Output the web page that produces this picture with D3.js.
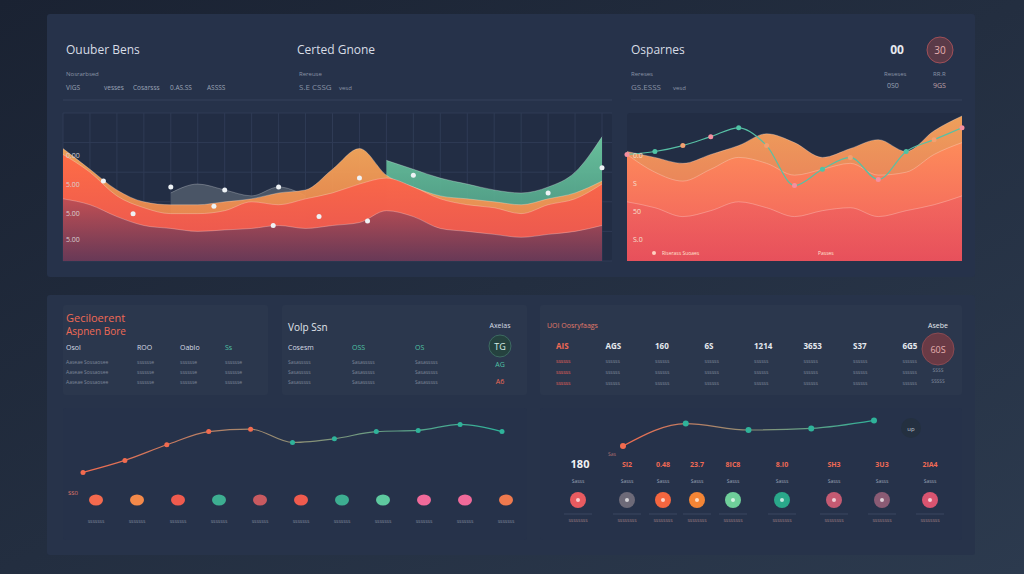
<!DOCTYPE html>
<html><head><meta charset="utf-8">
<script src="https://cdn.jsdelivr.net/npm/d3@7"></script>
<style>body{margin:0;background:#1d2636;overflow:hidden}text{font-family:"Open Sans",sans-serif}</style>
</head><body><svg id="c" width="1024" height="574"></svg>
<script>
// ---- data ----
var leftX = d3.range(0, 21)
var leftBase   = [42,38,30,24,22,20,21,22,24,22,24,26,34,30,22,20,18,16,18,20,24]
var leftRed    = [72,60,44,36,32,32,34,40,38,42,46,52,56,50,42,38,36,32,38,42,52]
var leftGray   = [0,0,0,0,46,52,48,44,50,44,0,0,0,0,0,0,0,0,0,0,0]
var leftGold   = [76,62,48,40,38,38,40,42,46,48,62,76,58,50,44,42,40,38,42,46,54]
var leftTeal   = [0,0,0,0,0,0,0,0,0,0,0,0,68,62,56,52,48,46,50,60,84]
var leftDots   = [[1.5,54],[4,50],[6,48],[8,50],[11,56],[13,58],[18,46],[20,63],[2.6,32],[5.6,37],[9.5,30],[11.3,27],[7.8,24]]
var rightX = d3.range(0, 13)
var rightBack  = [74,70,66,72,78,86,80,70,76,82,74,88,98]
var rightMid   = [72,60,54,62,70,66,58,62,66,58,60,72,80]
var rightFront = [40,36,30,34,40,36,30,34,36,30,34,38,44]
var rightLine  = [72,74,78,84,90,78,51,62,70,55,74,82,90]
var topNums = ["AIS","AGS","160","6S","1214","3653","S37","6G5"]
var bottomL = [48,58,71,82,84,73,76,82,83,88,82]
var bottomLDots = ["#f46a4e","#f3894a","#ef5b4e","#3dae91","#c85a60","#ef5b4e","#3dae91","#5ec99f","#f06a9a","#f06a9a","#ef7a4e"]
var bottomR = [40,68,60,62,72]
var bottomRNums = ["SI2","0.48","23.7","8IC8","8.I0","SH3","3U3","2IA4"]
var bottomRDots = ["#e85b60","#6d6a78","#f4663f","#f48535","#6fcf9a","#2aa88a","#c45a72","#8a5b74","#d95470"]

var svg = d3.select("#c")
var defs = svg.append("defs")
var bg = defs.append("linearGradient").attr("id","bg").attr("x1",0).attr("x2",1).attr("y1",0).attr("y2",1)
bg.append("stop").attr("offset",0).attr("stop-color","#1a2232")
bg.append("stop").attr("offset",1).attr("stop-color","#2c3a4e")
svg.append("rect").attr("width",1024).attr("height",574).attr("fill","url(#bg)")

function grad(id, c1, c2, o1, o2){
  var g = defs.append("linearGradient").attr("id",id).attr("x1",0).attr("x2",0).attr("y1",0).attr("y2",1)
  g.append("stop").attr("offset",0).attr("stop-color",c1).attr("stop-opacity",o1)
  g.append("stop").attr("offset",1).attr("stop-color",c2).attr("stop-opacity",o2)
}
grad("gPurple","#b84b55","#4a3358",0.95,0.9)
grad("gRed","#ff6a45","#e84f52",0.95,0.9)
grad("gGold","#f6a65a","#f27a45",0.95,0.9)
grad("gTeal","#6cc8a0","#4a9c86",0.95,0.8)
grad("gRB","#f9a65c","#f06a5a",0.95,0.95)
grad("gRM","#ff8a5a","#f25b5f",0.9,0.9)
grad("gRF","#f0605f","#e24a5a",0.9,0.95)
grad("gLine","#f26b4f","#2fb39a",1,1)
defs.select("#gLine").attr("x2",1).attr("y2",0)

function panel(x,y,w,h,fill){ svg.append("rect").attr("x",x).attr("y",y).attr("width",w).attr("height",h).attr("rx",3).attr("fill",fill) }
function txt(x,y,s,size,fill,anchor,weight){
  return svg.append("text").attr("x",x).attr("y",y).attr("font-size",size).attr("fill",fill)
    .attr("text-anchor",anchor||"start").attr("font-weight",weight||"normal").text(s)
}
panel(47,14,928,263,"#26324a")
panel(47,295,928,260,"#27334a")

// header texts
txt(66,54,"Ouuber Bens",12,"#d8dde6")
txt(297,54,"Certed Gnone",12,"#d8dde6")
txt(631,54,"Osparnes",12,"#d8dde6")
txt(897,54,"00",12,"#e6e9ef","middle","bold")
svg.append("circle").attr("cx",940).attr("cy",50).attr("r",13).attr("fill","#5a3a48").attr("stroke","#a05058")
txt(940,54,"30",10,"#e6b0b0","middle")
;[[66,"Nosrarbsed"],[299,"Rereuse"],[631,"Rereses"],[884,"Reseses"],[933,"RR.R"]].forEach(function(d){txt(d[0],76,d[1],6,"#8a93a5")})
;[[66,"VIGS"],[104,"vesses"],[133,"Cosarsss"],[170,"0.AS.SS"],[207,"ASSSS"]].forEach(function(d){txt(d[0],90,d[1],6.5,"#9aa3b5")})
txt(299,90,"S.E CSSG",8,"#8a93a5"); txt(339,90,"vesd",6,"#8a93a5")
txt(631,90,"GS.ESSS",8,"#8a93a5"); txt(673,90,"vesd",6,"#8a93a5")
txt(887,88,"0S0",7,"#9aa3b5"); txt(933,88,"9GS",7,"#c0a0a8")
;[[63,612,100],[631,962,100]].forEach(function(d){svg.append("line").attr("x1",d[0]).attr("x2",d[1]).attr("y1",d[2]).attr("y2",d[2]).attr("stroke","#34415a")})

// ---- left area chart ----
var lx = d3.scaleLinear().domain([0,20]).range([63,602])
var ly = d3.scaleLinear().domain([0,100]).range([261,113])
panel(63,113,549,148,"#222d44")
var gg = svg.append("g")
lx.ticks(20).forEach(function(t){gg.append("line").attr("x1",lx(t)).attr("x2",lx(t)).attr("y1",113).attr("y2",261).attr("stroke","#2f3b55")})
ly.ticks(6).forEach(function(t){gg.append("line").attr("x1",63).attr("x2",612).attr("y1",ly(t)).attr("y2",ly(t)).attr("stroke","#2f3b55")})
function areaLayer(xs, vals, sx, sy, fill, op){
  var pts = xs.map(function(x,i){return [x, vals[i]]}).filter(function(d){return d[1]>0})
  svg.append("path").datum(pts).attr("fill",fill).attr("opacity",op||1)
    .attr("d", d3.area().x(function(d){return sx(d[0])}).y0(sy(0)).y1(function(d){return sy(d[1])}).curve(d3.curveMonotoneX))
  svg.append("path").datum(pts).attr("fill","none").attr("stroke","#ffffff").attr("stroke-opacity",0.25)
    .attr("d", d3.line().x(function(d){return sx(d[0])}).y(function(d){return sy(d[1])}).curve(d3.curveMonotoneX))
}
areaLayer(leftX,leftTeal,lx,ly,"url(#gTeal)")
areaLayer(leftX,leftGray,lx,ly,"#4a5566")
areaLayer(leftX,leftGold,lx,ly,"url(#gGold)")
areaLayer(leftX,leftRed,lx,ly,"url(#gRed)")
areaLayer(leftX,leftBase,lx,ly,"url(#gPurple)",0.9)
leftDots.forEach(function(d){svg.append("circle").attr("cx",lx(d[0])).attr("cy",ly(d[1])).attr("r",2.5).attr("fill","#eef2f5")})
;[[66,158,"0.00"],[66,216,"5.00"],[66,242,"5.00"],[66,187,"5.00"]].forEach(function(d){txt(d[0],d[1],d[2],7,"#d8d0d0")})

// ---- right area chart ----
var rx = d3.scaleLinear().domain([0,12]).range([627,962])
var ry = d3.scaleLinear().domain([0,100]).range([261,113])
panel(627,113,335,148,"#222d44")
areaLayer(rightX,rightBack,rx,ry,"url(#gRB)")
areaLayer(rightX,rightMid,rx,ry,"url(#gRM)")
areaLayer(rightX,rightFront,rx,ry,"url(#gRF)",0.7)
svg.append("path").datum(rightLine).attr("fill","none").attr("stroke","#57c0a5").attr("stroke-width",1.2)
  .attr("d", d3.line().x(function(d,i){return rx(i)}).y(function(d){return ry(d)}).curve(d3.curveMonotoneX))
rightLine.forEach(function(d,i){svg.append("circle").attr("cx",rx(i)).attr("cy",ry(d)).attr("r",2.5).attr("fill",i%3==0?"#f58fa0":(i%3==1?"#4fc3a5":"#f3a070"))})
;[[633,158,"0.0"],[633,186,"S"],[633,214,"50"],[633,242,"S.0"]].forEach(function(d){txt(d[0],d[1],d[2],7,"#f5e0d0")})
svg.append("circle").attr("cx",654).attr("cy",253).attr("r",2).attr("fill","#ffd0c0")
txt(662,255,"Riserass Suoaes",5,"#ffe0d0"); txt(818,255,"Passes",5,"#ffe0d0")

// ---- bottom stat cards ----
panel(63,305,205,90,"#2b374d"); panel(282,305,245,90,"#2b374d"); panel(540,305,422,90,"#2b374d")
txt(66,322,"Geciloerent",11,"#f06a55")
txt(66,335,"Aspnen Bore",10,"#f06a55")
txt(288,331,"Volp Ssn",10,"#e0e4ea")
txt(500,328,"Axelas",7,"#d8dde6","middle")
svg.append("circle").attr("cx",500).attr("cy",346).attr("r",11).attr("fill","#25423f").attr("stroke","#3d6a62")
txt(500,350,"TG",9,"#d8efe8","middle")
txt(500,367,"AG",7,"#4fc3a5","middle"); txt(500,384,"A6",7,"#f06a55","middle")
;[[66,"Osol"],[137,"ROO"],[180,"Oablo"],[225,"Ss"]].forEach(function(d,i){txt(d[0],350,d[1],7,i==3?"#4fc3a5":"#d8dde6")})
;[[288,"Cosesm"],[352,"OSS"],[415,"OS"]].forEach(function(d,i){txt(d[0],350,d[1],7,i>0?"#4fc3a5":"#d8dde6")})
;[364,374,384].forEach(function(y){
  [66,137,180,225].forEach(function(x,i){txt(x,y,i==0?"Aaseae Sossaosee":"sssssse",5,"#7e879a")})
  ;[288,352,415].forEach(function(x){txt(x,y,"Sasasssss",5,"#7e879a")})
})
txt(547,328,"UOI Oosryfaags",7,"#e07a6a")
topNums.forEach(function(s,i){
  var x = 556 + i*49.5
  txt(x,349,s,8,i==0?"#f06a55":"#e6e9ef","start","bold")
  ;[363,374,385].forEach(function(y){txt(x,y,"ssssss",5,i==0?"#e06058":"#7e879a")})
})
txt(938,328,"Asebe",7,"#e6e9ef","middle")
svg.append("circle").attr("cx",938).attr("cy",349).attr("r",16).attr("fill","#6a3a45").attr("stroke","#8a4a52")
txt(938,353,"60S",9,"#e6b0b0","middle")
txt(938,372,"SSSS",5,"#7e879a","middle"); txt(938,383,"SSSSS",5,"#7e879a","middle")

// ---- bottom line cards ----
panel(63,408,464,132,"#26324a"); panel(540,408,422,132,"#26324a")
var bx = d3.scaleLinear().domain([0,bottomL.length-1]).range([83,502])
var by = d3.scaleLinear().domain([0,100]).range([530,410])
svg.append("path").datum(bottomL).attr("fill","none").attr("stroke","url(#gLine)").attr("stroke-width",1.2)
  .attr("d", d3.line().x(function(d,i){return bx(i)}).y(function(d){return by(d)}).curve(d3.curveMonotoneX))
bottomL.forEach(function(d,i){svg.append("circle").attr("cx",bx(i)).attr("cy",by(d)).attr("r",2.5).attr("fill",i<5?"#f26b4f":"#2fb39a")})
txt(68,495,"SS0",6,"#e07a6a")
var dx = d3.scaleLinear().domain([0,bottomLDots.length-1]).range([96,506])
bottomLDots.forEach(function(c,i){
  svg.append("ellipse").attr("cx",dx(i)).attr("cy",500).attr("rx",7).attr("ry",5.5).attr("fill",c)
  txt(dx(i),523,"sssssss",5,"#7e879a","middle")
})
var bx2 = d3.scaleLinear().domain([0,bottomR.length-1]).range([623,874])
var by2 = d3.scaleLinear().domain([0,100]).range([478,398])
svg.append("path").datum(bottomR).attr("fill","none").attr("stroke","url(#gLine)").attr("stroke-width",1.2)
  .attr("d", d3.line().x(function(d,i){return bx2(i)}).y(function(d){return by2(d)}).curve(d3.curveMonotoneX))
bottomR.forEach(function(d,i){svg.append("circle").attr("cx",bx2(i)).attr("cy",by2(d)).attr("r",3).attr("fill",i==0?"#f26b4f":"#2fb39a")})
txt(608,456,"Sas",5,"#b07070")
svg.append("circle").attr("cx",911).attr("cy",428).attr("r",10).attr("fill","#243040")
txt(911,431,"up",6,"#c0c8d0","middle")
txt(580,468,"180",11,"#f0f2f5","middle","bold")
var rnx = [627,663,697,733,782,834,882,930]
bottomRNums.forEach(function(s,i){txt(rnx[i],467,s,7,"#f06a55","middle","bold")})
var cdx = [578].concat(rnx)
bottomRDots.forEach(function(c,i){
  txt(cdx[i],483,"Sasss",5,"#9aa3b5","middle")
  svg.append("circle").attr("cx",cdx[i]).attr("cy",500).attr("r",8).attr("fill",c)
  svg.append("circle").attr("cx",cdx[i]).attr("cy",500).attr("r",2).attr("fill","#ffffff").attr("opacity",0.7)
  svg.append("line").attr("x1",cdx[i]-14).attr("x2",cdx[i]+14).attr("y1",514).attr("y2",514).attr("stroke","#3a4660")
  txt(cdx[i],522,"ssssssss",5,"#9a7a80","middle")
})
</script></body></html>
